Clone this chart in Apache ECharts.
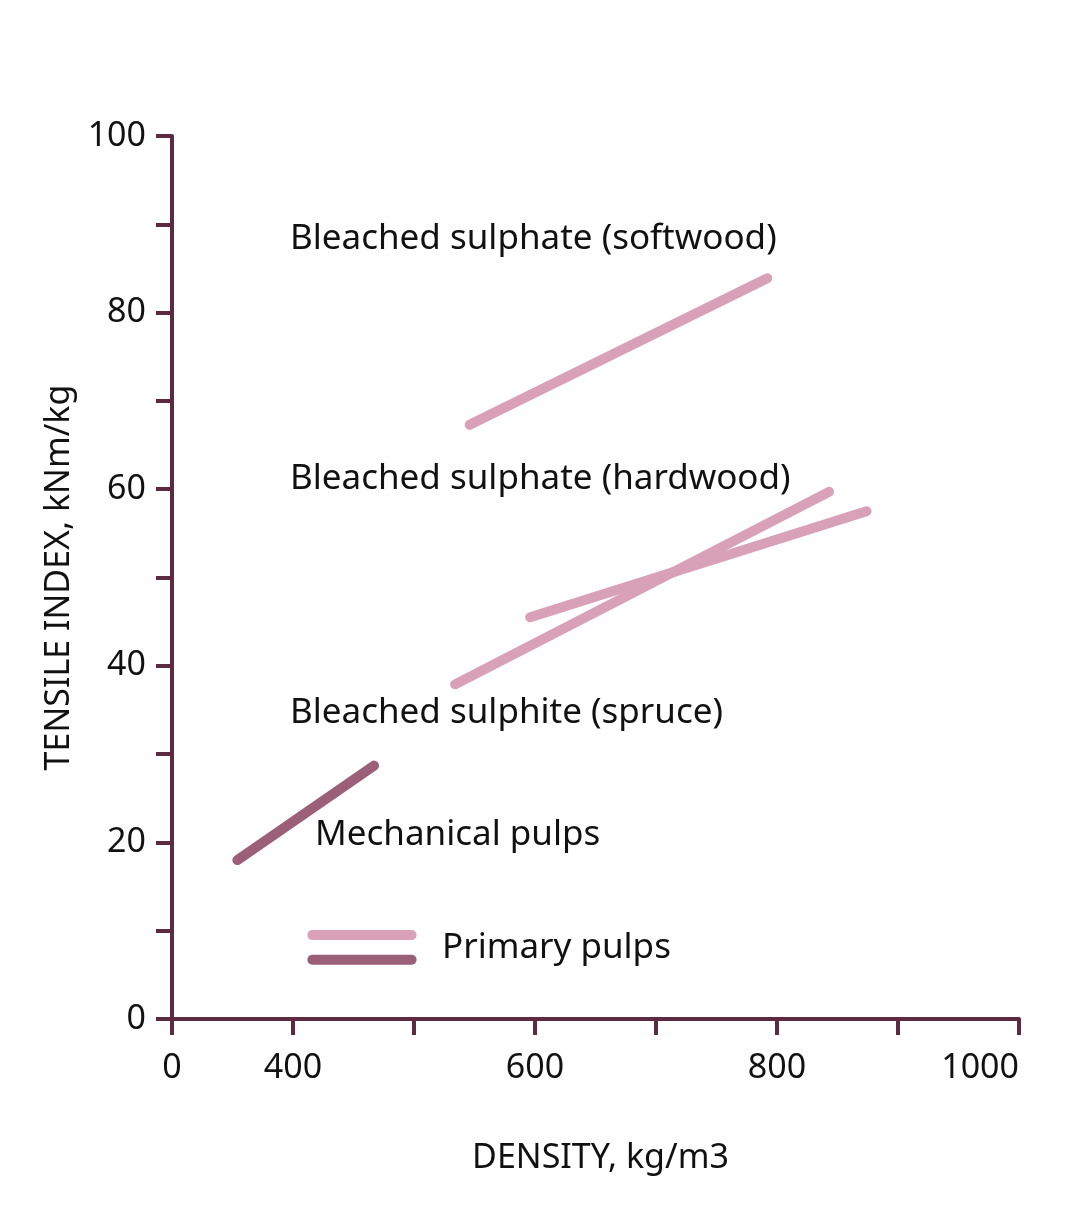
<!DOCTYPE html>
<html>
<head>
<meta charset="utf-8">
<script src="https://cdn.jsdelivr.net/npm/echarts@6/dist/echarts.min.js"></script>
<style>html,body{margin:0;background:#fff}#main{width:1080px;height:1222px}</style>
</head>
<body>
<div id="main"></div>
<script>
// density (kg/m3) and tensile index (kNm/kg) end points of each band
var softwood = [[546, 67.3], [792, 83.9]];
var hardwoodA = [[534, 37.9], [843, 59.7]];
var hardwoodB = [[596, 45.5], [874, 57.5]];
var mechanical = [[354, 18.0], [467, 28.7]];
var legendPrimary = [[416, 9.5], [498, 9.5]];
var legendMech = [[416, 6.7], [498, 6.7]];
var xLabels = {300: '0', 400: '400', 600: '600', 800: '800', 1000: '1000'};

var light = '#d8a1b8', dark = '#9b6078', axisCol = '#5e2a42';
var font = 'Noto Sans';

function seg(data, color) {
  return {type: 'line', data: data, symbol: 'none', silent: true,
    lineStyle: {color: color, width: 10, cap: 'round'}};
}

var chart = echarts.init(document.getElementById('main'));
chart.setOption({
  animation: false,
  grid: {left: 172, right: 61, top: 136, bottom: 203},
  xAxis: {
    type: 'value', min: 300, max: 1000, interval: 100,
    axisLine: {lineStyle: {color: axisCol, width: 4}},
    axisTick: {length: 16, lineStyle: {color: axisCol, width: 4}},
    splitLine: {show: false},
    axisLabel: {color: '#111', fontSize: 34, fontFamily: font, margin: 32,
      alignMaxLabel: 'right',
      formatter: function (v) { return xLabels[v] || ''; }},
    name: 'DENSITY, kg/m3', nameLocation: 'middle', nameGap: 122,
    nameTextStyle: {color: '#111', fontSize: 34, fontFamily: font, padding: [0, 0, 0, 10]}
  },
  yAxis: {
    type: 'value', min: 0, max: 100, interval: 10,
    axisLine: {show: true, lineStyle: {color: axisCol, width: 4}},
    axisTick: {show: true, length: 16, lineStyle: {color: axisCol, width: 4}},
    splitLine: {show: false},
    axisLabel: {color: '#111', fontSize: 34, fontFamily: font, margin: 26,
      formatter: function (v) { return v % 20 === 0 ? v : ''; }},
    name: 'TENSILE INDEX, kNm/kg', nameLocation: 'middle', nameGap: 90,
    nameTextStyle: {color: '#111', fontSize: 34, fontFamily: font}
  },
  series: [
    seg(softwood, light), seg(hardwoodA, light), seg(hardwoodB, light),
    seg(mechanical, dark), seg(legendPrimary, light), seg(legendMech, dark)
  ],
  graphic: [
    {type: 'text', left: 290, top: 222, style: {text: 'Bleached sulphate (softwood)', fontSize: 35, fontFamily: font, fill: '#111'}},
    {type: 'text', left: 290, top: 462, style: {text: 'Bleached sulphate (hardwood)', fontSize: 35, fontFamily: font, fill: '#111'}},
    {type: 'text', left: 290, top: 696, style: {text: 'Bleached sulphite (spruce)', fontSize: 35, fontFamily: font, fill: '#111'}},
    {type: 'text', left: 315, top: 818, style: {text: 'Mechanical pulps', fontSize: 35, fontFamily: font, fill: '#111'}},
    {type: 'text', left: 442, top: 931, style: {text: 'Primary pulps', fontSize: 35, fontFamily: font, fill: '#111'}}
  ]
});
</script>
</body>
</html>
